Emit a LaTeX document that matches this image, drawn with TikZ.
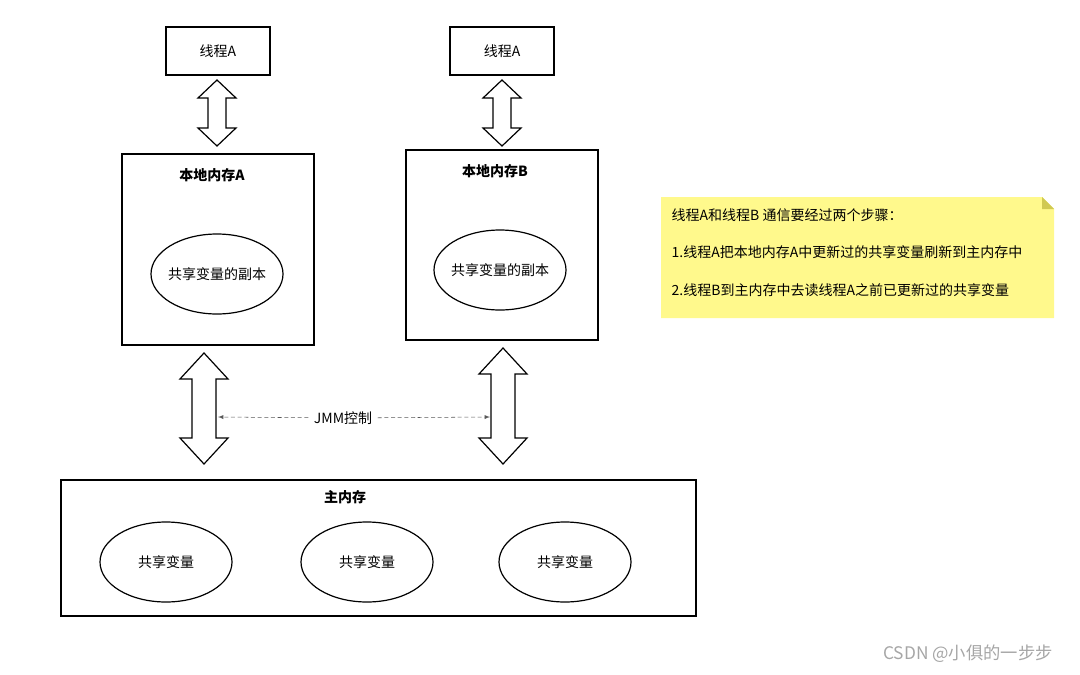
\documentclass[tikz,border=0pt]{standalone}
\usepackage{fontspec}
\setmainfont{Noto Sans CJK SC}
\begin{document}
\newcommand{\dblarr}[6]{% x, ytop, ybot, halfwidth, halfshaft, headlen
\draw[line width=0.9pt,fill=white] (#1,#2) -- (#1+#4,#2+#6) -- (#1+#5,#2+#6) -- (#1+#5,#3-#6) -- (#1+#4,#3-#6) -- (#1,#3) -- (#1-#4,#3-#6) -- (#1-#5,#3-#6) -- (#1-#5,#2+#6) -- (#1-#4,#2+#6) -- cycle;}
\begin{tikzpicture}[x=0.75pt,y=-0.75pt,
  box/.style={draw,line width=0.9pt},
  ell/.style={draw,line width=0.9pt,ellipse,minimum width=132\pgflinewidth,minimum height=80\pgflinewidth},
  txt/.style={font=\fontsize{10.5}{12}\selectfont},
  ttl/.style={font=\bfseries\fontsize{10.5}{12}\selectfont}]
\useasboundingbox (0,0) rectangle (1080,674);
\draw[box] (166,27) rectangle (270,75);
\node[txt] (ta) at (218,51) {线程A};
\draw[box] (450,27) rectangle (554,75);
\node[txt] (tb) at (502,51) {线程A};
\dblarr{217}{80}{146}{19}{9}{18}
\dblarr{502}{80}{146}{19}{9}{18}
\draw[box] (122,154) rectangle (314,345);
\node[ttl] (la) at (212,175) {本地内存A};
\draw[box] (217,274) ellipse (66 and 40);
\node[txt] (ca) at (217,274) {共享变量的副本};
\draw[box] (406,150) rectangle (598,340);
\node[ttl] (lb) at (495,171) {本地内存B};
\draw[box] (500,270) ellipse (66 and 40);
\node[txt] (cb) at (500,270) {共享变量的副本};
\dblarr{204}{353}{464}{24}{12}{26}
\dblarr{503}{348}{464}{24}{12}{26}
\coordinate (j1) at (218,417);
\coordinate (j2) at (490,417);
\node[txt,fill=white,inner sep=4pt] (jmm) at (343,418) {JMM控制};
\draw[densely dashed,gray!70!black,-latex] (jmm) -- (j1);
\draw[densely dashed,gray!70!black,-latex] (jmm) -- (j2);
\draw[box] (61,480) rectangle (696,616);
\node[ttl] (mm) at (345,497) {主内存};
\foreach \x/\n in {166/v1,367/v2,565/v3}{
  \draw[box] (\x,562) ellipse (66 and 40);
  \node[txt] (\n) at (\x,562) {共享变量};}
\fill[yellow!45] (661,197) -- (1042,197) -- (1054,209) -- (1054,318) -- (661,318) -- cycle;
\fill[yellow!30!olive!60] (1042,197) -- (1054,209) -- (1042,209) -- cycle;
\node[txt,anchor=west] (n1) at (667,215) {线程A和线程B 通信要经过两个步骤：};
\node[txt,anchor=west] (n2) at (667,252) {1.线程A把本地内存A中更新过的共享变量刷新到主内存中};
\node[txt,anchor=west] (n3) at (667,290) {2.线程B到主内存中去读线程A之前已更新过的共享变量};
\node[font=\fontsize{13}{15}\selectfont,text=gray!70] (wm) at (968,654) {CSDN @小俱的一步步};
\end{tikzpicture}
\end{document}
